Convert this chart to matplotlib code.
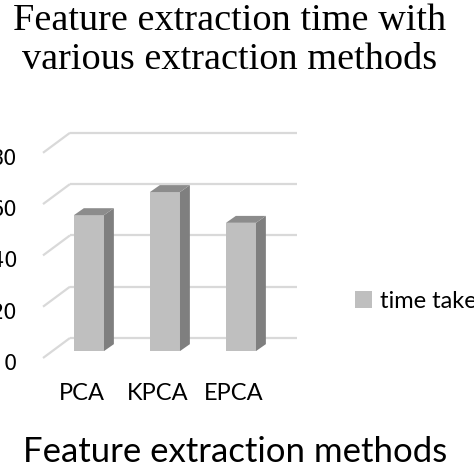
import matplotlib
matplotlib.use("Agg")
import matplotlib.pyplot as plt
from matplotlib.patches import Polygon
from matplotlib.transforms import ScaledTranslation

methods = ["PCA", "KPCA", "EPCA"]
time_taken = [53, 62, 50]
y_ticks = [0, 20, 40, 60, 80]
y_tick_labels = ["0", "20", "40", "60", "80"]
legend_label = "time taken"

front_color = "#BFBFBF"
side_color = "#7F7F7F"
top_color = "#8C8C8C"
grid_color = "#D9D9D9"

# pseudo-3D geometry (data units)
wall_dx, wall_dy = 0.355, 7.8     # front wall -> back wall
floor_dx, floor_dy = 0.125, 2.7   # front wall -> bar front face
depth_dx, depth_dy = 0.13, 2.7    # bar depth
bar_w = 0.395
x_left, x_right = -0.605, 2.74

fig = plt.figure(figsize=(4.74, 4.74), dpi=100)
ax = fig.add_axes([43 / 474, 116 / 474, 431 / 474, 233 / 474])
ax.set_xlim(x_left, x_left + 431 / 76)
ax.set_ylim(0, 233 / 2.565)

# gridlines: diagonal on the left wall, horizontal on the back wall
for v in y_ticks:
    ax.plot([x_left, x_left + wall_dx], [v, v + wall_dy], color=grid_color, lw=1.6, clip_on=False,
            solid_capstyle="butt")
    ax.plot([x_left + wall_dx, x_right], [v + wall_dy, v + wall_dy], color=grid_color, lw=1.6,
            solid_capstyle="butt")

xs = range(len(methods))
bars = ax.bar(xs, time_taken, width=bar_w, bottom=floor_dy, color=front_color, zorder=3,
              label=legend_label)
for x, v in zip(xs, time_taken):
    r = x + bar_w / 2
    l = x - bar_w / 2
    b = floor_dy
    t = floor_dy + v
    ax.add_patch(Polygon([(r, b), (r + depth_dx, b + depth_dy), (r + depth_dx, t + depth_dy), (r, t)],
                         closed=True, color=side_color, zorder=3, lw=0))
    ax.add_patch(Polygon([(l, t), (l + depth_dx, t + depth_dy), (r + depth_dx, t + depth_dy), (r, t)],
                         closed=True, color=top_color, zorder=3, lw=0))

sans = ["Lato", "DejaVu Sans"]
ax.set_yticks(y_ticks)
ax.set_yticklabels(y_tick_labels, family="DejaVu Sans", fontsize=15)
ax.set_xticks([x - 0.1 for x in xs])
ax.set_xticklabels(methods, family=sans, fontsize=17)
ax.tick_params(axis="y", length=0, pad=18.5)
ax.tick_params(axis="x", length=0, pad=18)
shift = ScaledTranslation(0, -4 / 100, fig.dpi_scale_trans)
for lab in ax.get_yticklabels():
    lab.set_transform(lab.get_transform() + shift)
for s in ax.spines.values():
    s.set_visible(False)

ax.set_xlabel("Feature extraction methods", family=sans, fontsize=25, labelpad=23)
ax.xaxis.label.set_x((235 - 43) / 431)

fig.text(230 / 474, 1 - 4 / 474, "Feature extraction time with\nvarious extraction methods",
         family="Liberation Serif", fontsize=27.5, ha="center", va="top", linespacing=1.15)

fig.legend(handles=[bars], labels=[legend_label], loc="center left",
           bbox_to_anchor=(355 / 474, 1 - 301 / 474), frameon=False, borderpad=0,
           borderaxespad=0, handlelength=0.72, handleheight=0.72, handletextpad=0.35,
           prop={"family": sans, "size": 17})

fig.savefig("out.png", dpi=100)
